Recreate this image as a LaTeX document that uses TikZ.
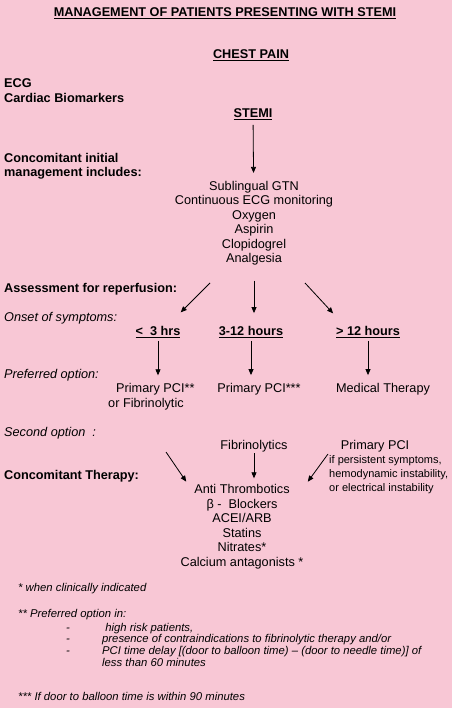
\documentclass[tikz,border=0pt]{standalone}
\usepackage{fontspec}
\setmainfont{Liberation Sans}
\definecolor{sheetpink}{RGB}{248,199,213}
\usetikzlibrary{positioning,arrows.meta}

\begin{document}
\begin{tikzpicture}[
  x=1pt, y=-1pt,
  every node/.style={inner sep=1pt, font=\fontsize{12.7}{14.5}\selectfont},
  head/.style={anchor=base, font=\fontsize{12.7}{14.5}\selectfont\bfseries},
  side/.style={anchor=base west, font=\fontsize{12.7}{14.5}\selectfont\bfseries, align=left},
  hint/.style={anchor=base west, font=\fontsize{12.7}{14.5}\selectfont\itshape},
  list/.style={align=center},
  small/.style={font=\fontsize{11}{14}\selectfont, align=left},
  foot/.style={anchor=base west, font=\fontsize{11.3}{11.7}\selectfont\itshape, align=left},
  arrow/.style={-{Triangle[length=6pt,width=5pt]}, line width=0.8pt, black}
]
\fill[sheetpink] (0,0) rectangle (452,708);
\useasboundingbox (0,0) rectangle (452,708);

% top part
\node[head] (title) at (225,17) {\underline{MANAGEMENT OF PATIENTS PRESENTING WITH STEMI}};
\node[head] (chest) at (251,58.5) {\underline{CHEST PAIN}};
\node[side, anchor=west] (ecg) at (3,90.5) {ECG\\Cardiac Biomarkers};
\node[head] (stemi) at (253,117.5) {\underline{STEMI}};
\node[side, anchor=west] (initlbl) at (3,166) {Concomitant initial\\management includes:};
\node[list] (initial) at (254,223.3) {Sublingual GTN\\Continuous ECG monitoring\\Oxygen\\Aspirin\\Clopidogrel\\Analgesia};

% reperfusion
\node[side] (assess) at (3,292.5) {Assessment for reperfusion:};
\node[hint] (onset) at (3,321.5) {Onset of symptoms:};
\node[head] (lt3) at (158,335.5) {\underline{<\ \ 3 hrs}};
\node[head] (mid) at (251,335.5) {\underline{3-12 hours}};
\node[head] (gt12) at (368,335.5) {\underline{> 12 hours}};
\node[hint] (prefer) at (3,378.5) {Preferred option:};
\node[align=left, anchor=west] (early) at (107,396.7) {\hspace*{8pt}Primary PCI**\\or Fibrinolytic};
\node[anchor=base] (pci3) at (259,392.5) {Primary PCI***};
\node[anchor=base] (medical) at (383,392.5) {Medical Therapy};

% second option
\node[hint] (second) at (3,436.5) {Second option\ \ :};
\node[anchor=base] (fibrin) at (254,449.5) {Fibrinolytics};
\node[anchor=base] (pci2) at (375,449.5) {Primary PCI};
\node[small, anchor=north west] (pcinote) at (328,454) {if persistent symptoms,\\hemodynamic instability,\\or electrical instability};
\node[side] (concth) at (3,479.5) {Concomitant Therapy:};
\node[list] (therapy) at (242,526.7) {Anti Thrombotics\\β -\ \ Blockers\\ACEI/ARB\\Statins\\Nitrates*\\Calcium antagonists *};

% footnotes
\node[foot] (fn1) at (17,591.5) {* when clinically indicated};
\node[foot] (fn2) at (17,617) {** Preferred option in:};
\node[foot, anchor=north west] (fn2list) at (65,621.8) {\makebox[36pt][l]{-}\ high risk patients,\\
  \makebox[36pt][l]{-}presence of contraindications to fibrinolytic therapy and/or\\
  \makebox[36pt][l]{-}PCI time delay [(door to balloon time) -- (door to needle time)] of\\
  \hspace*{36pt}less than 60 minutes};
\node[foot] (fn3) at (17,700) {*** If door to balloon time is within 90 minutes};

\coordinate (fanL) at (210,283);
\coordinate (fanR) at (305,283);
\coordinate (secL) at (166,452);

\draw[arrow, shorten <=4pt, shorten >=7pt] (stemi) -- (initial);
\draw[arrow, shorten >=18pt] (fanL) -- ([xshift=10pt]lt3.north);
\draw[arrow, shorten <=14pt, shorten >=12pt] (initial.south) -- (initial.south |- mid.north);
\draw[arrow, shorten >=16pt] (fanR) -- ([xshift=-24pt]gt12.north);
\draw[arrow, shorten <=2pt, shorten >=7pt] (lt3.south) -- (lt3.south |- early.north);
\draw[arrow, shorten <=2pt, shorten >=7pt] (mid.south) -- (mid.south |- pci3.north);
\draw[arrow, shorten <=2pt, shorten >=7pt] (gt12.south) -- (gt12.south |- medical.north);
\draw[arrow, shorten >=2pt] (secL) -- ([xshift=8pt]therapy.north west);
\draw[arrow, shorten >=5pt] (fibrin.south) -- (fibrin.south |- therapy.north);
\draw[arrow, shorten >=2pt] (pcinote.north west) -- ([xshift=2pt]therapy.north east);
\end{tikzpicture}
\end{document}
